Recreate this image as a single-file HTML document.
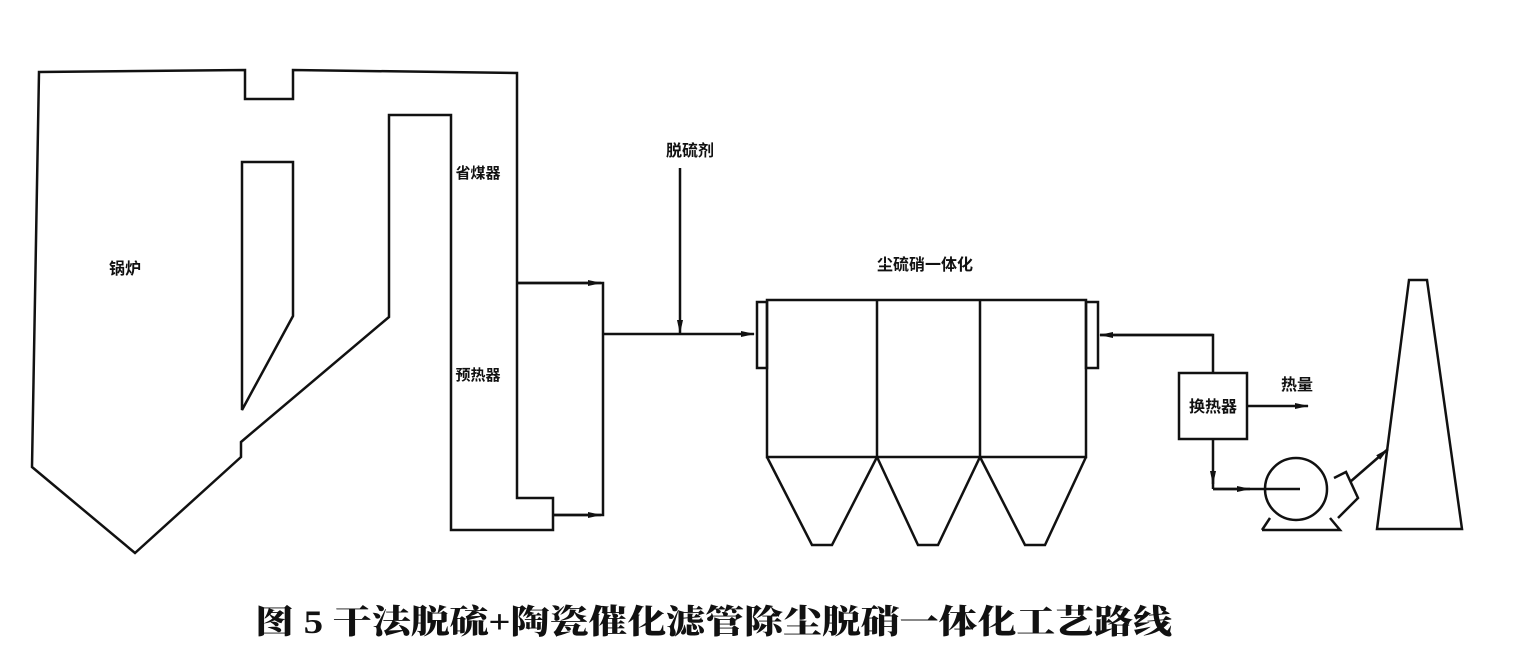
<!DOCTYPE html>
<html><head><meta charset="utf-8"><style>
html,body{margin:0;padding:0;background:#fff;}
svg{display:block;}
text{font-family:"Liberation Sans","Noto Sans CJK SC",sans-serif;font-weight:bold;fill:#111;}
.cap{font-family:"Liberation Serif","Noto Serif CJK SC",serif;font-weight:900;}
</style></head><body>
<svg width="1536" height="655" viewBox="0 0 1536 655" xmlns="http://www.w3.org/2000/svg">
<defs>
<marker id="a" markerWidth="14" markerHeight="8" refX="13" refY="4" orient="auto" markerUnits="userSpaceOnUse">
<path d="M0,1 L14,4 L0,7 Z" fill="#111"/></marker>
</defs>
<g fill="none" stroke="#111" stroke-width="2.5" stroke-linejoin="miter">
<path d="M39,72 L245,70 L245,99 L293,99 L293,70 L517,73 L517,498 L553,498 L553,530 L451,530 L451,115 L389,115 L389,317 L241,442 L241,457 L135,553 L32,467 Z"/>
<path d="M242,162 L293,162 L293,316 L242,410 Z"/>
<path d="M517,283 L603,283 L603,515 L553,515"/>
<line x1="517" y1="283" x2="601" y2="283" marker-end="url(#a)"/>
<line x1="553" y1="515" x2="601" y2="515" marker-end="url(#a)"/>
<line x1="603" y1="334" x2="754" y2="334" marker-end="url(#a)"/>
<line x1="680" y1="168" x2="680" y2="333" marker-end="url(#a)"/>
<rect x="757" y="302" width="10" height="66"/>
<rect x="1086" y="302" width="12" height="66"/>
<path d="M767,300 L1086,300 L1086,457 L767,457 Z"/>
<line x1="877" y1="300" x2="877" y2="457"/>
<line x1="980" y1="300" x2="980" y2="457"/>
<path d="M767,457 L812,545 L832,545 L877,457 L918,545 L938,545 L980,457 L1025,545 L1045,545 L1086,457"/>
<path d="M1213,373 L1213,335 L1100,335"/>
<line x1="1213" y1="335" x2="1100" y2="335" marker-end="url(#a)"/>
<rect x="1179" y="373" width="68" height="66"/>
<line x1="1247" y1="406" x2="1308" y2="406" marker-end="url(#a)"/>
<line x1="1213" y1="439" x2="1213" y2="489"/>
<line x1="1213" y1="474" x2="1213" y2="484" marker-end="url(#a)"/>
<line x1="1213" y1="489" x2="1300" y2="489"/>
<line x1="1213" y1="489" x2="1250" y2="489" marker-end="url(#a)"/>
<circle cx="1296" cy="489" r="31"/>
<path d="M1334,478 L1346,472 L1358,498 L1338,518"/>
<path d="M1262,530 L1270,518 M1262,530 L1340,530 L1330,518"/>
<line x1="1350" y1="482" x2="1388" y2="449" marker-end="url(#a)"/>
<path d="M1409,280 L1427,280 L1462,529 L1377,529 Z"/>
</g>
<text x="125" y="274" font-size="16" text-anchor="middle">锅炉</text>
<text x="478" y="178" font-size="15" text-anchor="middle">省煤器</text>
<text x="478" y="380" font-size="15" text-anchor="middle">预热器</text>
<text x="690" y="156" font-size="16" text-anchor="middle">脱硫剂</text>
<text x="925" y="270" font-size="16" text-anchor="middle">尘硫硝一体化</text>
<text x="1213" y="412" font-size="16" text-anchor="middle">换热器</text>
<text x="1297" y="390" font-size="16" text-anchor="middle">热量</text>
<text class="cap" x="255" y="633" font-size="33" textLength="917" lengthAdjust="spacingAndGlyphs">图 5  干法脱硫+陶瓷催化滤管除尘脱硝一体化工艺路线</text>
</svg>
</body></html>
